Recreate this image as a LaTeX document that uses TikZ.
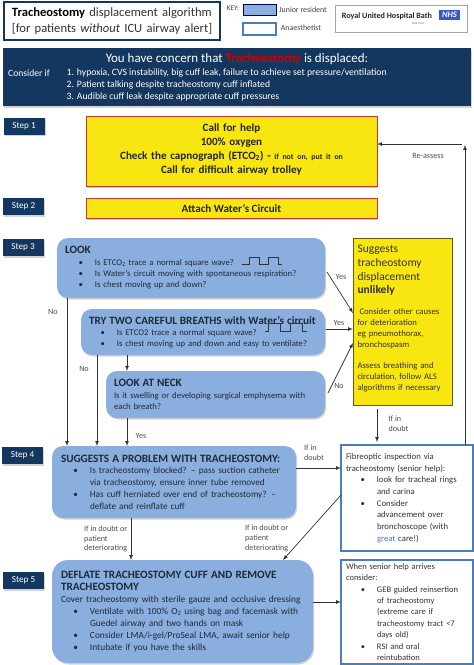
\documentclass[tikz,border=0pt]{standalone}
\usepackage{fontspec}
\setmainfont{Carlito}
\usetikzlibrary{shadows}
\definecolor{navy}{HTML}{14375F}
\definecolor{alarm}{HTML}{F7E60F}
\definecolor{alarmline}{HTML}{C8352A}
\definecolor{junior}{HTML}{8AAEDD}
\definecolor{anaes}{HTML}{4A7EBB}
\definecolor{inktext}{HTML}{1E2A38}
\newcommand{\bulline}[2]{\par\leftskip=#1\relax\noindent\llap{\textbullet\hspace{12pt}}#2\par}
\begin{document}
\begin{tikzpicture}[x=1pt, y=-1pt,
    softshadow/.style={drop shadow={opacity=0.35, shadow xshift=1.2pt, shadow yshift=-1.5pt}},
    stepbox/.style={rectangle, fill=navy, text=white, font=\fontsize{9.2}{10}\selectfont,
      minimum width=41pt, minimum height=17pt, inner sep=0pt, outer sep=0pt, softshadow},
    alarmbox/.style={rectangle, draw=alarmline, line width=1pt, fill=alarm, align=center,
      inner sep=0pt, outer sep=0pt, text=black!85, font=\fontsize{11.1}{14}\selectfont\bfseries, softshadow},
    bluebox/.style={rectangle, rounded corners=11pt, fill=junior, inner xsep=0pt, inner ysep=0pt,
      outer sep=0pt, align=left, text=inktext, font=\fontsize{8.7}{11.3}\selectfont, softshadow},
    whitebox/.style={rectangle, draw=anaes, line width=1.3pt, fill=white, inner sep=0pt, outer sep=0pt,
      align=left, text=black!80, font=\fontsize{8.7}{11.7}\selectfont},
    arrow/.style={->, >=latex, line width=0.7pt, black!80},
    note/.style={inner sep=0pt, align=left, text=black!70, font=\fontsize{8.1}{9.7}\selectfont},
    bannertext/.style={inner sep=0pt, text=white, align=left},
  ]
    \useasboundingbox (0,0) rectangle (474,665);
    % header
    \node[rectangle, draw=navy, line width=1.3pt, fill=white, minimum width=216pt, minimum height=38pt,
      inner sep=0pt, outer sep=0pt, align=left, font=\fontsize{12.6}{15.6}\selectfont, text=black!80, text width=208pt] (title) at (112,21)
      {\hspace*{4pt}\textbf{\textcolor{black}{Tracheostomy}} displacement algorithm\\[0pt]\hspace*{4pt}[for patients \textit{without} ICU airway alert]};
    \node[note, text=black!75, font=\fontsize{7.2}{8}\selectfont] (keylabel) at (233,8) {KEY:};
    \node[rectangle, draw=black!65!blue, line width=0.9pt, fill=junior, minimum width=33pt, minimum height=11pt, inner sep=0pt] (keyjunior) at (259.5,10) {};
    \node[rectangle, draw=anaes, line width=1.3pt, fill=white, minimum width=33pt, minimum height=12pt, inner sep=0pt] (keyanaes) at (259.5,29) {};
    \node[note, text=black!75, font=\fontsize{7.9}{9}\selectfont] (juniorlabel) at (303,9.5) {Junior resident};
    \node[note, text=black!75, font=\fontsize{7.9}{9}\selectfont] (anaeslabel) at (301,28) {Anaesthetist};
    \node[rectangle, draw=black!35, line width=0.8pt, fill=white, minimum width=132pt, minimum height=27pt, inner sep=0pt, outer sep=0pt] (logo) at (401,18.5) {};
    \node[inner sep=0pt, text=black!85, font=\fontsize{8.1}{9}\selectfont\bfseries] (hospital) at (387,16) {Royal United Hospital Bath};
    \node[rectangle, fill=anaes!70!blue, text=white, inner sep=0pt, minimum width=21pt, minimum height=10pt, font=\fontsize{8.5}{9}\selectfont\bfseries\itshape] (nhs) at (449.5,15) {NHS};
    \node[inner sep=0pt, text=black!55, font=\fontsize{3}{4}\selectfont] (trust) at (418,24) {NHS Trust};
    % concern banner
    \node[rectangle, fill=navy, minimum width=468pt, minimum height=58pt, inner sep=0pt, outer sep=0pt, softshadow] (banner) at (237,77) {};
    \node[bannertext, font=\fontsize{13}{15}\selectfont] (concern) at (237,59)
      {You have concern that \textbf{\textcolor{red!80!black}{Tracheostomy}} is displaced:};
    \node[bannertext, font=\fontsize{9.6}{11}\selectfont] (consider) at (29,73) {Consider if};
    \node[bannertext, anchor=west, font=\fontsize{9.7}{11.8}\selectfont] (causes) at (66.5,85)
      {1. hypoxia, CVS instability, big cuff leak, failure to achieve set pressure/ventilation\\
       2. Patient talking despite tracheostomy cuff inflated\\
       3. Audible cuff leak despite appropriate cuff pressures};
    % steps
    \node[stepbox] (step1) at (24,126) {Step 1};
    \node[stepbox] (step2) at (23.5,206.5) {Step 2};
    \node[stepbox] (step3) at (23,247.5) {Step 3};
    \node[stepbox] (step4) at (22.5,455.5) {Step 4};
    \node[stepbox] (step5) at (23.5,580.5) {Step 5};
    % yellow boxes
    \node[alarmbox, minimum width=291pt, minimum height=70pt, text width=280pt] (help) at (231.5,151)
      {Call for help\\100\% oxygen\\Check the capnograph (ETCO\textsubscript{2}) - {\fontsize{7.8}{9}\selectfont if not on, put it on}\\Call for difficult airway trolley\par\vspace{4pt}};
    \node[alarmbox, minimum width=291pt, minimum height=20pt] (circuit) at (231.5,208) {Attach Water's Circuit};
    \node[rectangle, draw=black!60!alarm, line width=0.8pt, fill=alarm, minimum width=99pt, minimum height=167pt, inner sep=0pt, outer sep=0pt,
      text width=90pt, align=left, text=black!80, font=\fontsize{8.7}{10.8}\selectfont] (unlikely) at (402.5,321.5)
      {{\fontsize{11.5}{13.8}\selectfont Suggests\\tracheostomy\\displacement\\\textbf{unlikely}\\[10pt]}
       \hspace*{2pt}Consider other causes\\for deterioration\\eg pneumothorax,\\bronchospasm\\[11pt]
       Assess breathing and\\circulation, follow ALS\\algorithms if necessary\par\vspace{6pt}};
    % blue boxes
    \node[bluebox, minimum width=268pt, minimum height=60pt, text width=252pt] (look) at (191,268)
      {{\fontsize{11.2}{12}\selectfont\bfseries LOOK}
       \bulline{30pt}{Is ETCO\textsubscript{2} trace a normal square wave?}
       \bulline{30pt}{Is Water's circuit moving with spontaneous respiration?}
       \bulline{30pt}{Is chest moving up and down?}};
    \node[bluebox, minimum width=244pt, minimum height=46pt, text width=228pt] (breaths) at (203,332)
      {{\fontsize{11.2}{13}\selectfont\bfseries TRY TWO CAREFUL BREATHS with Water's circuit}
       \bulline{28pt}{Is ETCO2 trace a normal square wave?}
       \bulline{28pt}{Is chest moving up and down and easy to ventilate?}};
    \node[bluebox, minimum width=219pt, minimum height=47pt, text width=203pt] (neck) at (215.5,394.5)
      {{\fontsize{11.2}{12}\selectfont\bfseries LOOK AT NECK}\\
       Is it swelling or developing surgical emphysema with\\each breath?};
    \node[bluebox, minimum width=244pt, minimum height=72pt, text width=226pt, font=\fontsize{9.2}{11.7}\selectfont] (problem) at (174,482)
      {{\fontsize{11.2}{13}\selectfont\bfseries SUGGESTS A PROBLEM WITH TRACHEOSTOMY:}
       \bulline{29pt}{Is tracheostomy blocked? -- pass suction catheter\\via tracheostomy, ensure inner tube removed}
       \bulline{29pt}{Has cuff herniated over end of tracheostomy? --\\deflate and reinflate cuff}};
    \node[bluebox, rounded corners=16pt, minimum width=261pt, minimum height=103pt, text width=243pt, font=\fontsize{9.4}{12}\selectfont] (deflate) at (182.5,611.5)
      {{\fontsize{11.2}{14.2}\selectfont\bfseries DEFLATE TRACHEOSTOMY CUFF AND REMOVE\\TRACHEOSTOMY}
       \par Cover tracheostomy with sterile gauze and occlusive dressing
       \bulline{29pt}{Ventilate with 100\% O\textsubscript{2} using bag and facemask with\\Guedel airway and two hands on mask}
       \bulline{29pt}{Consider LMA/i-gel/ProSeal LMA, await senior help}
       \bulline{29pt}{Intubate if you have the skills}};
    % white boxes
    \node[whitebox, minimum width=132pt, minimum height=106pt, text width=122pt] (fibre) at (407,498)
      {Fibreoptic inspection via\\tracheostomy (senior help):
       \bulline{31pt}{look for tracheal rings\\and carina}
       \bulline{31pt}{Consider\\advancement over\\bronchoscope (with\\\textcolor{anaes}{great} care!)}};
    \node[whitebox, minimum width=132pt, minimum height=104pt, text width=122pt, font=\fontsize{8.5}{11.4}\selectfont] (senior) at (407,612)
      {When senior help arrives\\consider:
       \bulline{31pt}{GEB guided reinsertion\\of tracheostomy\\(extreme care if\\tracheostomy tract <7\\days old)}
       \bulline{31pt}{RSI and oral\\reintubation}};
    % square waves
    \draw[line width=0.6pt, black!80] (242,264) -- (249,264) -- (249,257) -- (259,257) -- (259,264)
      -- (268,264) -- (268,257) -- (278,257) -- (278,264) -- (282,264);
    \draw[line width=0.6pt, black!80] (265,331) -- (268,331) -- (268,323) -- (280,323) -- (280,331)
      -- (290,331) -- (290,323) -- (302,323) -- (302,331) -- (307,331);
    % connectors
    \coordinate (reassess) at (462,144);
    \coordinate (reassesstop) at (465,145);
    \draw[arrow] ([xshift=10pt]look.south west) -- ([xshift=15pt]problem.north west);
    \draw[arrow] ([xshift=16pt]breaths.south west) -- ([xshift=45pt]problem.north west);
    \draw[arrow] ([xshift=46pt]breaths.south west) -- ([xshift=21pt]neck.north west);
    \draw[arrow] ([xshift=21pt]neck.south west) -- ([xshift=75pt]problem.north west);
    \draw[arrow] ([xshift=2pt,yshift=-4pt]look.east) -- ([yshift=8.5pt]unlikely.west);
    \draw[arrow] ([xshift=1pt,yshift=3pt]breaths.east) -- ([yshift=-7.5pt]unlikely.west);
    \draw[arrow] ([xshift=3pt,yshift=1.5pt]neck.east) -- ([yshift=-21.5pt]unlikely.west);
    \draw[arrow] ([xshift=-25.5pt,yshift=-4pt]unlikely.south) -- ([xshift=-30pt,yshift=3pt]fibre.north);
    \draw[arrow] ([xshift=58pt]fibre.north) -- (reassesstop);
    \draw[arrow] (reassess) -- ([yshift=7pt]help.east);
    \draw[arrow] ([yshift=14pt]problem.east) -- ([yshift=30pt]fibre.west);
    \draw[arrow] ([yshift=3pt]fibre.west) -- ([xshift=100.5pt]deflate.north);
    \draw[arrow] ([xshift=-43pt]problem.south) -- ([xshift=-51.5pt]deflate.north);
    \draw[arrow] ([yshift=9.5pt]deflate.east) -- ([yshift=10pt]senior.west);
    % labels
    \node[note] (nolook) at (53,312) {No};
    \node[note] (nobreaths) at (84,369) {No};
    \node[note] (yesneck) at (141,436) {Yes};
    \node[note] (yeslook) at (341,277) {Yes};
    \node[note] (yesbreaths) at (339,323) {Yes};
    \node[note] (noneck) at (339,386) {No};
    \node[note, anchor=west] (doubtfibre) at (388.5,424) {If in\\doubt};
    \node[note, anchor=west] (doubtproblem) at (304,453) {If in\\doubt};
    \node[note, anchor=west] (worseproblem) at (84,539) {If in doubt or\\patient\\deteriorating};
    \node[note, anchor=west] (worsefibre) at (245,538.5) {If in doubt or\\patient\\deteriorating};
    \node[note] (reassesslabel) at (428,156) {Re-assess};
  \end{tikzpicture}
\end{document}
